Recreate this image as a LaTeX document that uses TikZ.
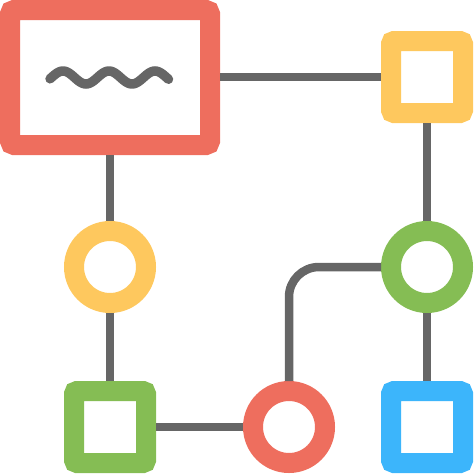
\documentclass[tikz,border=0pt]{standalone}
\definecolor{cRed}{HTML}{EE6E5E}
\definecolor{cYellow}{HTML}{FEC85E}
\definecolor{cGreen}{HTML}{85BD54}
\definecolor{cBlue}{HTML}{3CB5FB}
\definecolor{cGray}{HTML}{666666}
\tikzset{
  sq/.style={draw=#1, fill=white, line width=20pt, rectangle, rounded corners=3pt, minimum width=72pt, minimum height=72pt, inner sep=0pt},
  ring/.style={draw=#1, fill=white, line width=20pt, circle, minimum size=72pt, inner sep=0pt},
  conn/.style={draw=cGray, line width=8.5pt},
}
\begin{document}
\begin{tikzpicture}[x=1pt, y=-1pt]
\useasboundingbox (0,0) rectangle (474,474);
\node[sq=cRed, minimum width=200pt, minimum height=135pt, rounded corners=4pt] (box) at (110,77.5) {};
\node[sq=cYellow] (ysq) at (427,77) {};
\node[ring=cGreen] (gcirc) at (427,267) {};
\node[sq=cBlue] (bsq) at (427,427) {};
\node[ring=cYellow] (ycirc) at (110,267) {};
\node[sq=cGreen] (gsq) at (110,427) {};
\node[ring=cRed] (rcirc) at (289,427) {};
\draw[cGray, line width=9.5pt, line cap=round] plot[domain=50:168.5, samples=80, smooth] (\x, {77.5 - 6.5*sin(7.826*(\x-51.5))});
\draw[conn] (ysq.west -| box.east) -- (ysq.west);
\draw[conn] (ysq) -- (gcirc);
\draw[conn] (gcirc) -- (bsq);
\draw[conn] (box) -- (ycirc);
\draw[conn] (ycirc) -- (gsq);
\draw[conn] (gsq) -- (rcirc);
\draw[conn, rounded corners=30pt] (rcirc.north) |- (gcirc.west);
\end{tikzpicture}
\end{document}
